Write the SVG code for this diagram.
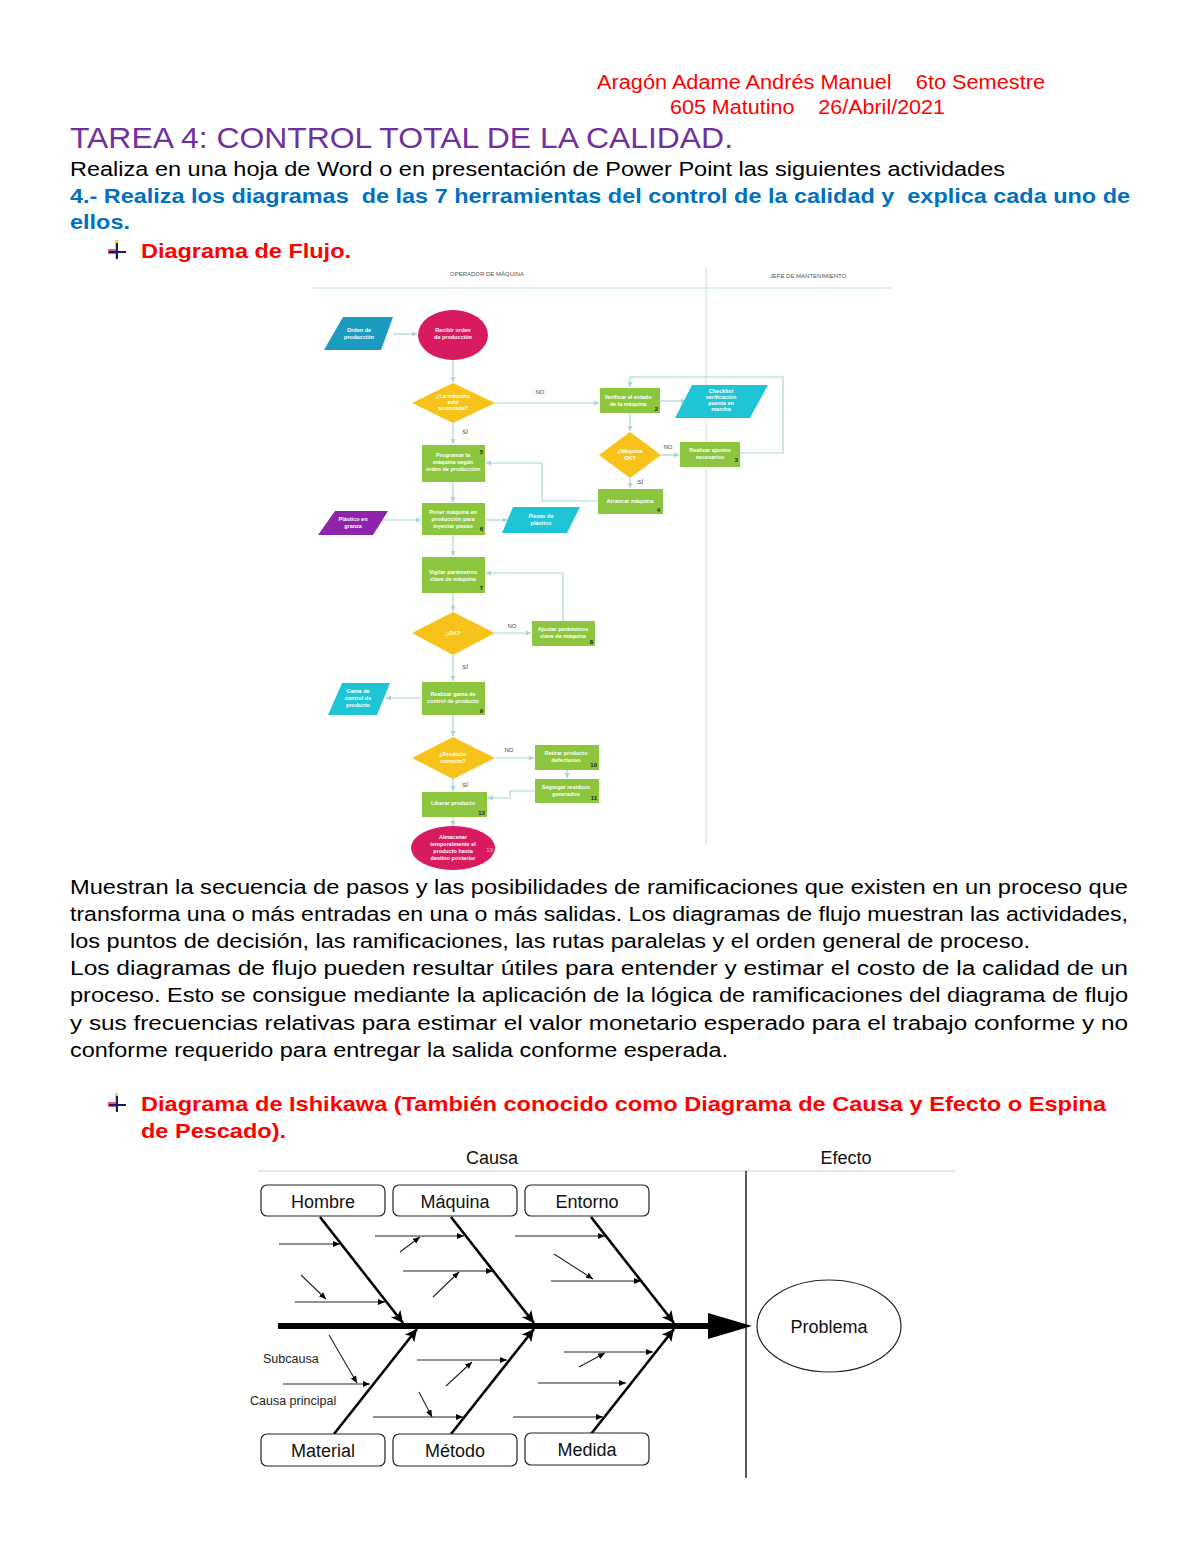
<svg xmlns="http://www.w3.org/2000/svg" width="1200" height="1553" viewBox="0 0 1200 1553">
<defs>
<style>
.t{font-family:"Liberation Sans",Arial,sans-serif}
.pre{white-space:pre}
.hdr{font-size:20px;fill:#ff0000}
.title{font-size:30px;fill:#7030A0}
.body{font-size:20px;fill:#000}
.blue{font-size:20px;fill:#0070C0;font-weight:bold}
.red{font-size:21px;fill:#ff0000;font-weight:bold}
.fc{font-size:5.5px;fill:#fff;font-weight:bold;text-anchor:middle}
.num{font-size:6px;fill:#222;font-weight:bold;text-anchor:end}
.lbl{font-size:6px;fill:#444;text-anchor:middle}
.lane{font-size:6px;fill:#555;text-anchor:middle}
.g{fill:#8cc63f}
.y{fill:#f7c31a}
.m{fill:#d81b60}
.tb{fill:#1a9bbf}
.cy{fill:#20c5d5}
.pu{fill:#8e24aa}
.fl{fill:none;stroke:#a9d4d6;stroke-width:1.2}
.box{fill:#fff;stroke:#222;stroke-width:1.2}
.fb{font-size:18px;fill:#111;text-anchor:middle}
.bone{stroke:#000;stroke-width:2.6;fill:none}
.sub{stroke:#222;stroke-width:1.1;fill:none}
.sm{font-size:12.5px;fill:#222}
</style>
<marker id="fa" markerWidth="6" markerHeight="6" refX="5" refY="3" orient="auto" markerUnits="userSpaceOnUse"><path d="M0,0.5 L5,3 L0,5.5 z" fill="#a9d4d6"/></marker>
<marker id="ba" markerWidth="14" markerHeight="14" refX="12" refY="6" orient="auto" markerUnits="userSpaceOnUse"><path d="M0,0 L12,6 L0,12 L3,6 z" fill="#000"/></marker>
<marker id="sa" markerWidth="8" markerHeight="8" refX="7" refY="3" orient="auto" markerUnits="userSpaceOnUse"><path d="M0,0 L7,3 L0,6 z" fill="#000"/></marker>
</defs>
<rect width="1200" height="1553" fill="#fff"/>

<!-- header -->
<g id="header" class="t">
<text class="t hdr pre" x="597" y="89" textLength="448" lengthAdjust="spacingAndGlyphs">Aragón Adame Andrés Manuel    6to Semestre</text>
<text class="t hdr pre" x="670" y="114" textLength="275" lengthAdjust="spacingAndGlyphs">605 Matutino    26/Abril/2021</text>
<text class="t title" x="70" y="148" textLength="663" lengthAdjust="spacingAndGlyphs">TAREA 4: CONTROL TOTAL DE LA CALIDAD.</text>
<text class="t body" x="70" y="176" textLength="935" lengthAdjust="spacingAndGlyphs">Realiza en una hoja de Word o en presentación de Power Point las siguientes actividades</text>
<text class="t blue pre" x="70" y="203" textLength="1060" lengthAdjust="spacingAndGlyphs">4.- Realiza los diagramas  de las 7 herramientas del control de la calidad y  explica cada uno de</text>
<text class="t blue" x="70" y="229" textLength="60" lengthAdjust="spacingAndGlyphs">ellos.</text>
</g>

<g id="bullet1">
<rect x="115" y="240" width="3" height="18" fill="#f2d22e"/>
<rect x="108" y="249" width="8" height="5" fill="#e05a7a"/>
<rect x="116" y="243" width="2" height="16" fill="#1a1a6e"/>
<rect x="109" y="251" width="17" height="2" fill="#1a1a6e"/>
<text class="t red" x="141" y="258" textLength="210" lengthAdjust="spacingAndGlyphs">Diagrama de Flujo.</text>
</g>

<!-- flowchart lanes -->
<g id="lanes" class="t">
<line x1="312" y1="288" x2="892" y2="288" stroke="#c8e3e3" stroke-width="1.2"/>
<line x1="706" y1="267" x2="706" y2="845" stroke="#d3e8e8" stroke-width="1.2"/>
<text class="lane" x="487" y="276">OPERADOR DE MÁQUINA</text>
<text class="lane" x="808" y="278">JEFE DE MANTENIMIENTO</text>
</g>

<!-- flowchart connectors -->
<g id="flow-connectors" class="t">
<line class="fl" x1="393" y1="334" x2="417" y2="334" marker-end="url(#fa)"/>
<line class="fl" x1="453" y1="360" x2="453" y2="382" marker-end="url(#fa)"/>
<line class="fl" x1="495" y1="403" x2="599" y2="403" marker-end="url(#fa)"/>
<line class="fl" x1="660" y1="401" x2="686" y2="401" marker-end="url(#fa)"/>
<line class="fl" x1="630" y1="413" x2="630" y2="431" marker-end="url(#fa)"/>
<line class="fl" x1="661" y1="455" x2="679" y2="455" marker-end="url(#fa)"/>
<polyline class="fl" points="740,453 783,453 783,377 630,377 630,387" marker-end="url(#fa)"/>
<line class="fl" x1="630" y1="478" x2="630" y2="488" marker-end="url(#fa)"/>
<polyline class="fl" points="598,501 542,501 542,463 486,463" marker-end="url(#fa)"/>
<line class="fl" x1="453" y1="423" x2="453" y2="444" marker-end="url(#fa)"/>
<line class="fl" x1="453" y1="482" x2="453" y2="502" marker-end="url(#fa)"/>
<line class="fl" x1="381" y1="520" x2="421" y2="520" marker-end="url(#fa)"/>
<line class="fl" x1="485" y1="520" x2="508" y2="520" marker-end="url(#fa)"/>
<line class="fl" x1="453" y1="535" x2="453" y2="556" marker-end="url(#fa)"/>
<line class="fl" x1="453" y1="593" x2="453" y2="611" marker-end="url(#fa)"/>
<line class="fl" x1="495" y1="633" x2="531" y2="633" marker-end="url(#fa)"/>
<polyline class="fl" points="563,621 563,573 486,573" marker-end="url(#fa)"/>
<line class="fl" x1="453" y1="655" x2="453" y2="681" marker-end="url(#fa)"/>
<line class="fl" x1="422" y1="698" x2="386" y2="698" marker-end="url(#fa)"/>
<line class="fl" x1="453" y1="715" x2="453" y2="736" marker-end="url(#fa)"/>
<line class="fl" x1="495" y1="758" x2="534" y2="758" marker-end="url(#fa)"/>
<line class="fl" x1="567" y1="770" x2="567" y2="778" marker-end="url(#fa)"/>
<polyline class="fl" points="535,791 510,791 510,798 488,798" marker-end="url(#fa)"/>
<line class="fl" x1="453" y1="779" x2="453" y2="791" marker-end="url(#fa)"/>
<line class="fl" x1="453" y1="817" x2="453" y2="826" marker-end="url(#fa)"/>
<text class="lbl" x="540" y="394">NO</text>
<text class="lbl" x="668" y="449">NO</text>
<text class="lbl" x="640" y="484">SÍ</text>
<text class="lbl" x="465" y="434">SÍ</text>
<text class="lbl" x="512" y="628">NO</text>
<text class="lbl" x="465" y="669">SÍ</text>
<text class="lbl" x="509" y="752">NO</text>
<text class="lbl" x="465" y="787">SÍ</text>
</g>

<!-- flowchart nodes -->
<g id="n-orden" class="t"><polygon class="tb" points="343,317 393,317 381,350 324,350"/><text class="fc" x="359" y="332">Orden de</text><text class="fc" x="359" y="339">producción</text></g>
<g id="n-recibir" class="t"><ellipse class="m" cx="453" cy="335" rx="35" ry="25"/><text class="fc" x="453" y="332">Recibir orden</text><text class="fc" x="453" y="339">de producción</text></g>
<g id="n-arrancada" class="t"><polygon class="y" points="453,383 495,403 453,423 412,403"/><text class="fc" x="453" y="398">¿La máquina</text><text class="fc" x="453" y="404">está</text><text class="fc" x="453" y="410">arrancada?</text></g>
<g id="n-verificar" class="t"><rect class="g" x="600" y="388" width="60" height="25"/><text class="fc" x="628" y="399">Verificar el estado</text><text class="fc" x="628" y="406">de la máquina</text><text class="num" x="658" y="411">2</text></g>
<g id="n-checklist" class="t"><polygon class="cy" points="692,385 768,385 750,418 675,418"/><text class="fc" x="721" y="393">Checklist</text><text class="fc" x="721" y="399">verificación</text><text class="fc" x="721" y="405">puesta en</text><text class="fc" x="721" y="411">marcha</text></g>
<g id="n-maquinaok" class="t"><polygon class="y" points="630,432 661,455 630,478 599,455"/><text class="fc" x="630" y="453">¿Máquina</text><text class="fc" x="630" y="460">OK?</text></g>
<g id="n-ajustes" class="t"><rect class="g" x="680" y="442" width="60" height="25"/><text class="fc" x="710" y="452">Realizar ajustes</text><text class="fc" x="710" y="459">necesarios</text><text class="num" x="738" y="462">3</text></g>
<g id="n-arrancar" class="t"><rect class="g" x="598" y="489" width="65" height="25"/><text class="fc" x="630" y="503">Arrancar máquina</text><text class="num" x="660" y="512">4</text></g>
<g id="n-programar" class="t"><rect class="g" x="422" y="445" width="63" height="37"/><text class="fc" x="453" y="457">Programar la</text><text class="fc" x="453" y="464">máquina según</text><text class="fc" x="453" y="471">orden de producción</text><text class="num" x="483" y="454">5</text></g>
<g id="n-plastico" class="t"><polygon class="pu" points="335,511 388,511 373,535 318,535"/><text class="fc" x="353" y="521">Plástico en</text><text class="fc" x="353" y="528">granza</text></g>
<g id="n-poner" class="t"><rect class="g" x="422" y="503" width="63" height="32"/><text class="fc" x="453" y="514">Poner máquina en</text><text class="fc" x="453" y="521">producción para</text><text class="fc" x="453" y="528">inyectar piezas</text><text class="num" x="483" y="531">6</text></g>
<g id="n-piezas" class="t"><polygon class="cy" points="513,507 580,507 567,533 502,533"/><text class="fc" x="541" y="518">Piezas de</text><text class="fc" x="541" y="525">plástico</text></g>
<g id="n-vigilar" class="t"><rect class="g" x="422" y="557" width="63" height="36"/><text class="fc" x="453" y="574">Vigilar parámetros</text><text class="fc" x="453" y="581">clave de máquina</text><text class="num" x="483" y="590">7</text></g>
<g id="n-ok" class="t"><polygon class="y" points="453,612 495,633 453,655 412,633"/><text class="fc" x="453" y="635">¿OK?</text></g>
<g id="n-ajustar" class="t"><rect class="g" x="532" y="621" width="63" height="25"/><text class="fc" x="563" y="631">Ajustar parámetros</text><text class="fc" x="563" y="638">clave de máquina</text><text class="num" x="593" y="644">8</text></g>
<g id="n-gama" class="t"><rect class="g" x="422" y="682" width="63" height="33"/><text class="fc" x="453" y="696">Realizar gama de</text><text class="fc" x="453" y="703">control de producto</text><text class="num" x="483" y="713">9</text></g>
<g id="n-gamadoc" class="t"><polygon class="cy" points="342,683 390,683 377,715 328,715"/><text class="fc" x="358" y="693">Gama de</text><text class="fc" x="358" y="700">control de</text><text class="fc" x="358" y="707">producto</text></g>
<g id="n-correcto" class="t"><polygon class="y" points="453,737 495,758 453,779 412,758"/><text class="fc" x="453" y="756">¿Producto</text><text class="fc" x="453" y="763">correcto?</text></g>
<g id="n-retirar" class="t"><rect class="g" x="535" y="745" width="64" height="25"/><text class="fc" x="566" y="755">Retirar producto</text><text class="fc" x="566" y="762">defectuoso</text><text class="num" x="597" y="767">10</text></g>
<g id="n-segregar" class="t"><rect class="g" x="535" y="779" width="64" height="24"/><text class="fc" x="566" y="789">Segregar residuos</text><text class="fc" x="566" y="796">generados</text><text class="num" x="597" y="800">11</text></g>
<g id="n-liberar" class="t"><rect class="g" x="422" y="792" width="65" height="25"/><text class="fc" x="453" y="805">Liberar producto</text><text class="num" x="485" y="815">12</text></g>
<g id="n-almacenar" class="t"><ellipse class="m" cx="453" cy="848" rx="42" ry="22"/><text class="fc" x="453" y="839">Almacenar</text><text class="fc" x="453" y="846">temporalmente el</text><text class="fc" x="453" y="853">producto hasta</text><text class="fc" x="453" y="860">destino posterior</text><text class="num" x="493" y="852" style="fill:#e8a">13</text></g>

<!-- paragraph -->
<g id="paragraph" class="t">
<text class="t body" x="70" y="894" textLength="1058" lengthAdjust="spacingAndGlyphs">Muestran la secuencia de pasos y las posibilidades de ramificaciones que existen en un proceso que</text>
<text class="t body" x="70" y="921" textLength="1058" lengthAdjust="spacingAndGlyphs">transforma una o más entradas en una o más salidas. Los diagramas de flujo muestran las actividades,</text>
<text class="t body" x="70" y="948" textLength="960" lengthAdjust="spacingAndGlyphs">los puntos de decisión, las ramificaciones, las rutas paralelas y el orden general de proceso.</text>
<text class="t body" x="70" y="975" textLength="1058" lengthAdjust="spacingAndGlyphs">Los diagramas de flujo pueden resultar útiles para entender y estimar el costo de la calidad de un</text>
<text class="t body" x="70" y="1002" textLength="1058" lengthAdjust="spacingAndGlyphs">proceso. Esto se consigue mediante la aplicación de la lógica de ramificaciones del diagrama de flujo</text>
<text class="t body" x="70" y="1030" textLength="1058" lengthAdjust="spacingAndGlyphs">y sus frecuencias relativas para estimar el valor monetario esperado para el trabajo conforme y no</text>
<text class="t body" x="70" y="1057" textLength="658" lengthAdjust="spacingAndGlyphs">conforme requerido para entregar la salida conforme esperada.</text>
</g>

<g id="bullet2">
<rect x="115" y="1093" width="3" height="18" fill="#f2d22e"/>
<rect x="108" y="1102" width="8" height="5" fill="#e05a7a"/>
<rect x="116" y="1096" width="2" height="16" fill="#1a1a6e"/>
<rect x="109" y="1104" width="17" height="2" fill="#1a1a6e"/>
<text class="t red" x="141" y="1111" textLength="965" lengthAdjust="spacingAndGlyphs">Diagrama de Ishikawa (También conocido como Diagrama de Causa y Efecto o Espina</text>
<text class="t red" x="141" y="1138" textLength="145" lengthAdjust="spacingAndGlyphs">de Pescado).</text>
</g>

<!-- fishbone frame -->
<g id="fish-frame" class="t">
<text class="t fb" x="492" y="1164">Causa</text>
<text class="t fb" x="846" y="1164">Efecto</text>
<line x1="258" y1="1171" x2="955" y2="1171" stroke="#ccc" stroke-width="1"/>
<line x1="746" y1="1171" x2="746" y2="1478" stroke="#222" stroke-width="1.5"/>
</g>

<!-- fishbone connectors -->
<g id="fish-connectors">
<line x1="278" y1="1326" x2="712" y2="1326" stroke="#000" stroke-width="6"/>
<polygon points="708,1313 752,1326 708,1339" fill="#000"/>
<line class="bone" x1="320" y1="1217" x2="403" y2="1323" marker-end="url(#ba)"/>
<line class="bone" x1="451" y1="1217" x2="534" y2="1323" marker-end="url(#ba)"/>
<line class="bone" x1="591" y1="1217" x2="674" y2="1323" marker-end="url(#ba)"/>
<line class="bone" x1="334" y1="1434" x2="417" y2="1329" marker-end="url(#ba)"/>
<line class="bone" x1="451" y1="1434" x2="534" y2="1329" marker-end="url(#ba)"/>
<line class="bone" x1="591" y1="1434" x2="674" y2="1329" marker-end="url(#ba)"/>
<line class="sub" x1="279" y1="1244" x2="340" y2="1244" marker-end="url(#sa)"/>
<line class="sub" x1="301" y1="1275" x2="326" y2="1299" marker-end="url(#sa)"/>
<line class="sub" x1="295" y1="1302" x2="385" y2="1302" marker-end="url(#sa)"/>
<line class="sub" x1="375" y1="1236" x2="464" y2="1236" marker-end="url(#sa)"/>
<line class="sub" x1="400" y1="1252" x2="420" y2="1237" marker-end="url(#sa)"/>
<line class="sub" x1="403" y1="1271" x2="493" y2="1271" marker-end="url(#sa)"/>
<line class="sub" x1="433" y1="1297" x2="459" y2="1272" marker-end="url(#sa)"/>
<line class="sub" x1="515" y1="1236" x2="605" y2="1236" marker-end="url(#sa)"/>
<line class="sub" x1="554" y1="1254" x2="593" y2="1279" marker-end="url(#sa)"/>
<line class="sub" x1="551" y1="1281" x2="641" y2="1281" marker-end="url(#sa)"/>
<line class="sub" x1="329" y1="1335" x2="357" y2="1383" marker-end="url(#sa)"/>
<line class="sub" x1="283" y1="1384" x2="370" y2="1384" marker-end="url(#sa)"/>
<line class="sub" x1="417" y1="1360" x2="507" y2="1360" marker-end="url(#sa)"/>
<line class="sub" x1="446" y1="1386" x2="472" y2="1362" marker-end="url(#sa)"/>
<line class="sub" x1="373" y1="1417" x2="463" y2="1417" marker-end="url(#sa)"/>
<line class="sub" x1="419" y1="1392" x2="432" y2="1417" marker-end="url(#sa)"/>
<line class="sub" x1="564" y1="1352" x2="653" y2="1352" marker-end="url(#sa)"/>
<line class="sub" x1="579" y1="1367" x2="605" y2="1353" marker-end="url(#sa)"/>
<line class="sub" x1="538" y1="1383" x2="626" y2="1383" marker-end="url(#sa)"/>
<line class="sub" x1="513" y1="1417" x2="603" y2="1417" marker-end="url(#sa)"/>
<text class="t sm" x="263" y="1363">Subcausa</text>
<text class="t sm" x="250" y="1405">Causa principal</text>
</g>

<!-- fishbone nodes -->
<g id="f-hombre" class="t"><rect class="box" x="261" y="1185" width="124" height="31" rx="6"/><text class="fb" x="323" y="1208">Hombre</text></g>
<g id="f-maquina" class="t"><rect class="box" x="393" y="1185" width="124" height="31" rx="6"/><text class="fb" x="455" y="1208">Máquina</text></g>
<g id="f-entorno" class="t"><rect class="box" x="525" y="1185" width="124" height="31" rx="6"/><text class="fb" x="587" y="1208">Entorno</text></g>
<g id="f-material" class="t"><rect class="box" x="261" y="1434" width="124" height="32" rx="6"/><text class="fb" x="323" y="1457">Material</text></g>
<g id="f-metodo" class="t"><rect class="box" x="393" y="1434" width="124" height="32" rx="6"/><text class="fb" x="455" y="1457">Método</text></g>
<g id="f-medida" class="t"><rect class="box" x="525" y="1433" width="124" height="32" rx="6"/><text class="fb" x="587" y="1456">Medida</text></g>
<g id="f-problema" class="t"><ellipse cx="829" cy="1326" rx="72" ry="46" fill="#fff" stroke="#222" stroke-width="1.2"/><text class="fb" x="829" y="1333">Problema</text></g>
</svg>
